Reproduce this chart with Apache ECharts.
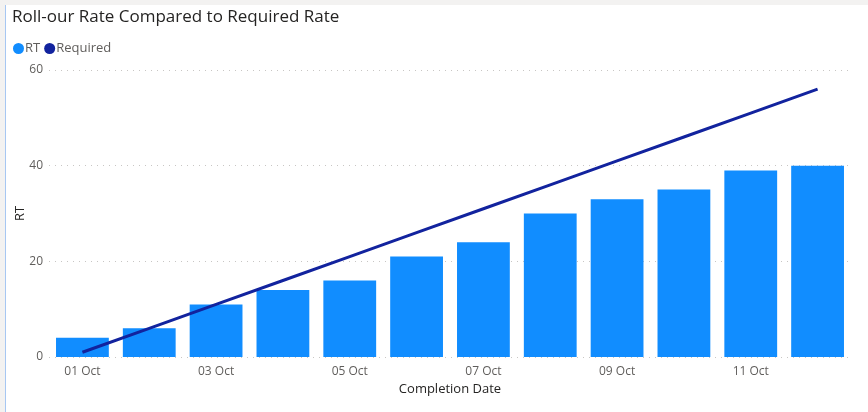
<!DOCTYPE html>
<html>
<head>
<meta charset="UTF-8">
<title>Roll-our Rate</title>
<script src="https://cdn.jsdelivr.net/npm/echarts@6/dist/echarts.min.js"></script>
<style>
	html, body { margin: 0; padding: 0; background: #fff; }
	#main { width: 868px; height: 412px; }
</style>
</head>
<body>
<div id="main"></div>
<script>
	// 数据
	var dates = ['01 Oct', '02 Oct', '03 Oct', '04 Oct', '05 Oct', '06 Oct', '07 Oct', '08 Oct', '09 Oct', '10 Oct', '11 Oct', '12 Oct'];
	var rtValues = [4, 6, 11, 14, 16, 21, 24, 30, 33, 35, 39, 40];
	var requiredValues = [1, 6, 11, 16, 21, 26, 31, 36, 41, 46, 51, 56];
	var yTicks = [0, 20, 40, 60];

	var font = "'Segoe UI', 'Open Sans', sans-serif";
	var myChart = echarts.init(document.getElementById('main'));
	var option = {
		animation: false,
		textStyle: { fontFamily: font },
		title: {
			text: 'Roll-our Rate Compared to Required Rate',
			left: 7,
			top: 4,
			textStyle: { fontSize: 17, fontWeight: 'normal', color: '#252423', fontFamily: font }
		},
		legend: {
			left: 8,
			top: 37,
			icon: 'circle',
			itemWidth: 11,
			itemHeight: 11,
			itemGap: 4,
			textStyle: { fontSize: 13, color: '#605E5C', padding: [0, 0, 0, -4] },
			data: ['RT', 'Required']
		},
		grid: {
			left: 49,
			right: 17,
			top: 70,
			bottom: 55
		},
		xAxis: {
			type: 'category',
			data: dates,
			name: 'Completion Date',
			nameLocation: 'middle',
			nameGap: 25,
			nameTextStyle: { fontSize: 13, color: '#252423' },
			axisLine: { show: false },
			axisTick: { show: false },
			axisLabel: { interval: 1, color: '#605E5C', fontSize: 12, margin: 9 }
		},
		yAxis: {
			type: 'value',
			min: yTicks[0],
			max: yTicks[yTicks.length - 1],
			interval: 20,
			name: 'RT',
			nameLocation: 'middle',
			nameGap: 22,
			nameMoveOverlap: false,
			nameTextStyle: { fontSize: 13, color: '#252423' },
			axisLabel: { color: '#605E5C', fontSize: 12, margin: 6 },
			splitLine: { lineStyle: { type: [1, 5], color: '#C8C6C4', width: 1 } }
		},
		series: [{
			name: 'RT',
			type: 'bar',
			data: rtValues,
			barCategoryGap: '21%',
			itemStyle: { color: '#118DFF' }
		}, {
			name: 'Required',
			type: 'line',
			data: requiredValues,
			showSymbol: false,
			symbol: 'circle',
			itemStyle: { color: '#12239E' },
			lineStyle: { color: '#12239E', width: 3 }
		}],
		graphic: [{
			type: 'rect',
			shape: { x: 0, y: 0, width: 868, height: 5 },
			style: { fill: '#F3F2F1' }
		}, {
			type: 'rect',
			shape: { x: 0, y: 0, width: 5, height: 412 },
			style: { fill: '#F3F2F1' }
		}, {
			type: 'line',
			shape: { x1: 5.5, y1: 5, x2: 5.5, y2: 412 },
			style: { stroke: '#A7C7F2', lineWidth: 1 }
		}]
	};
	myChart.setOption(option);
</script>
</body>
</html>
